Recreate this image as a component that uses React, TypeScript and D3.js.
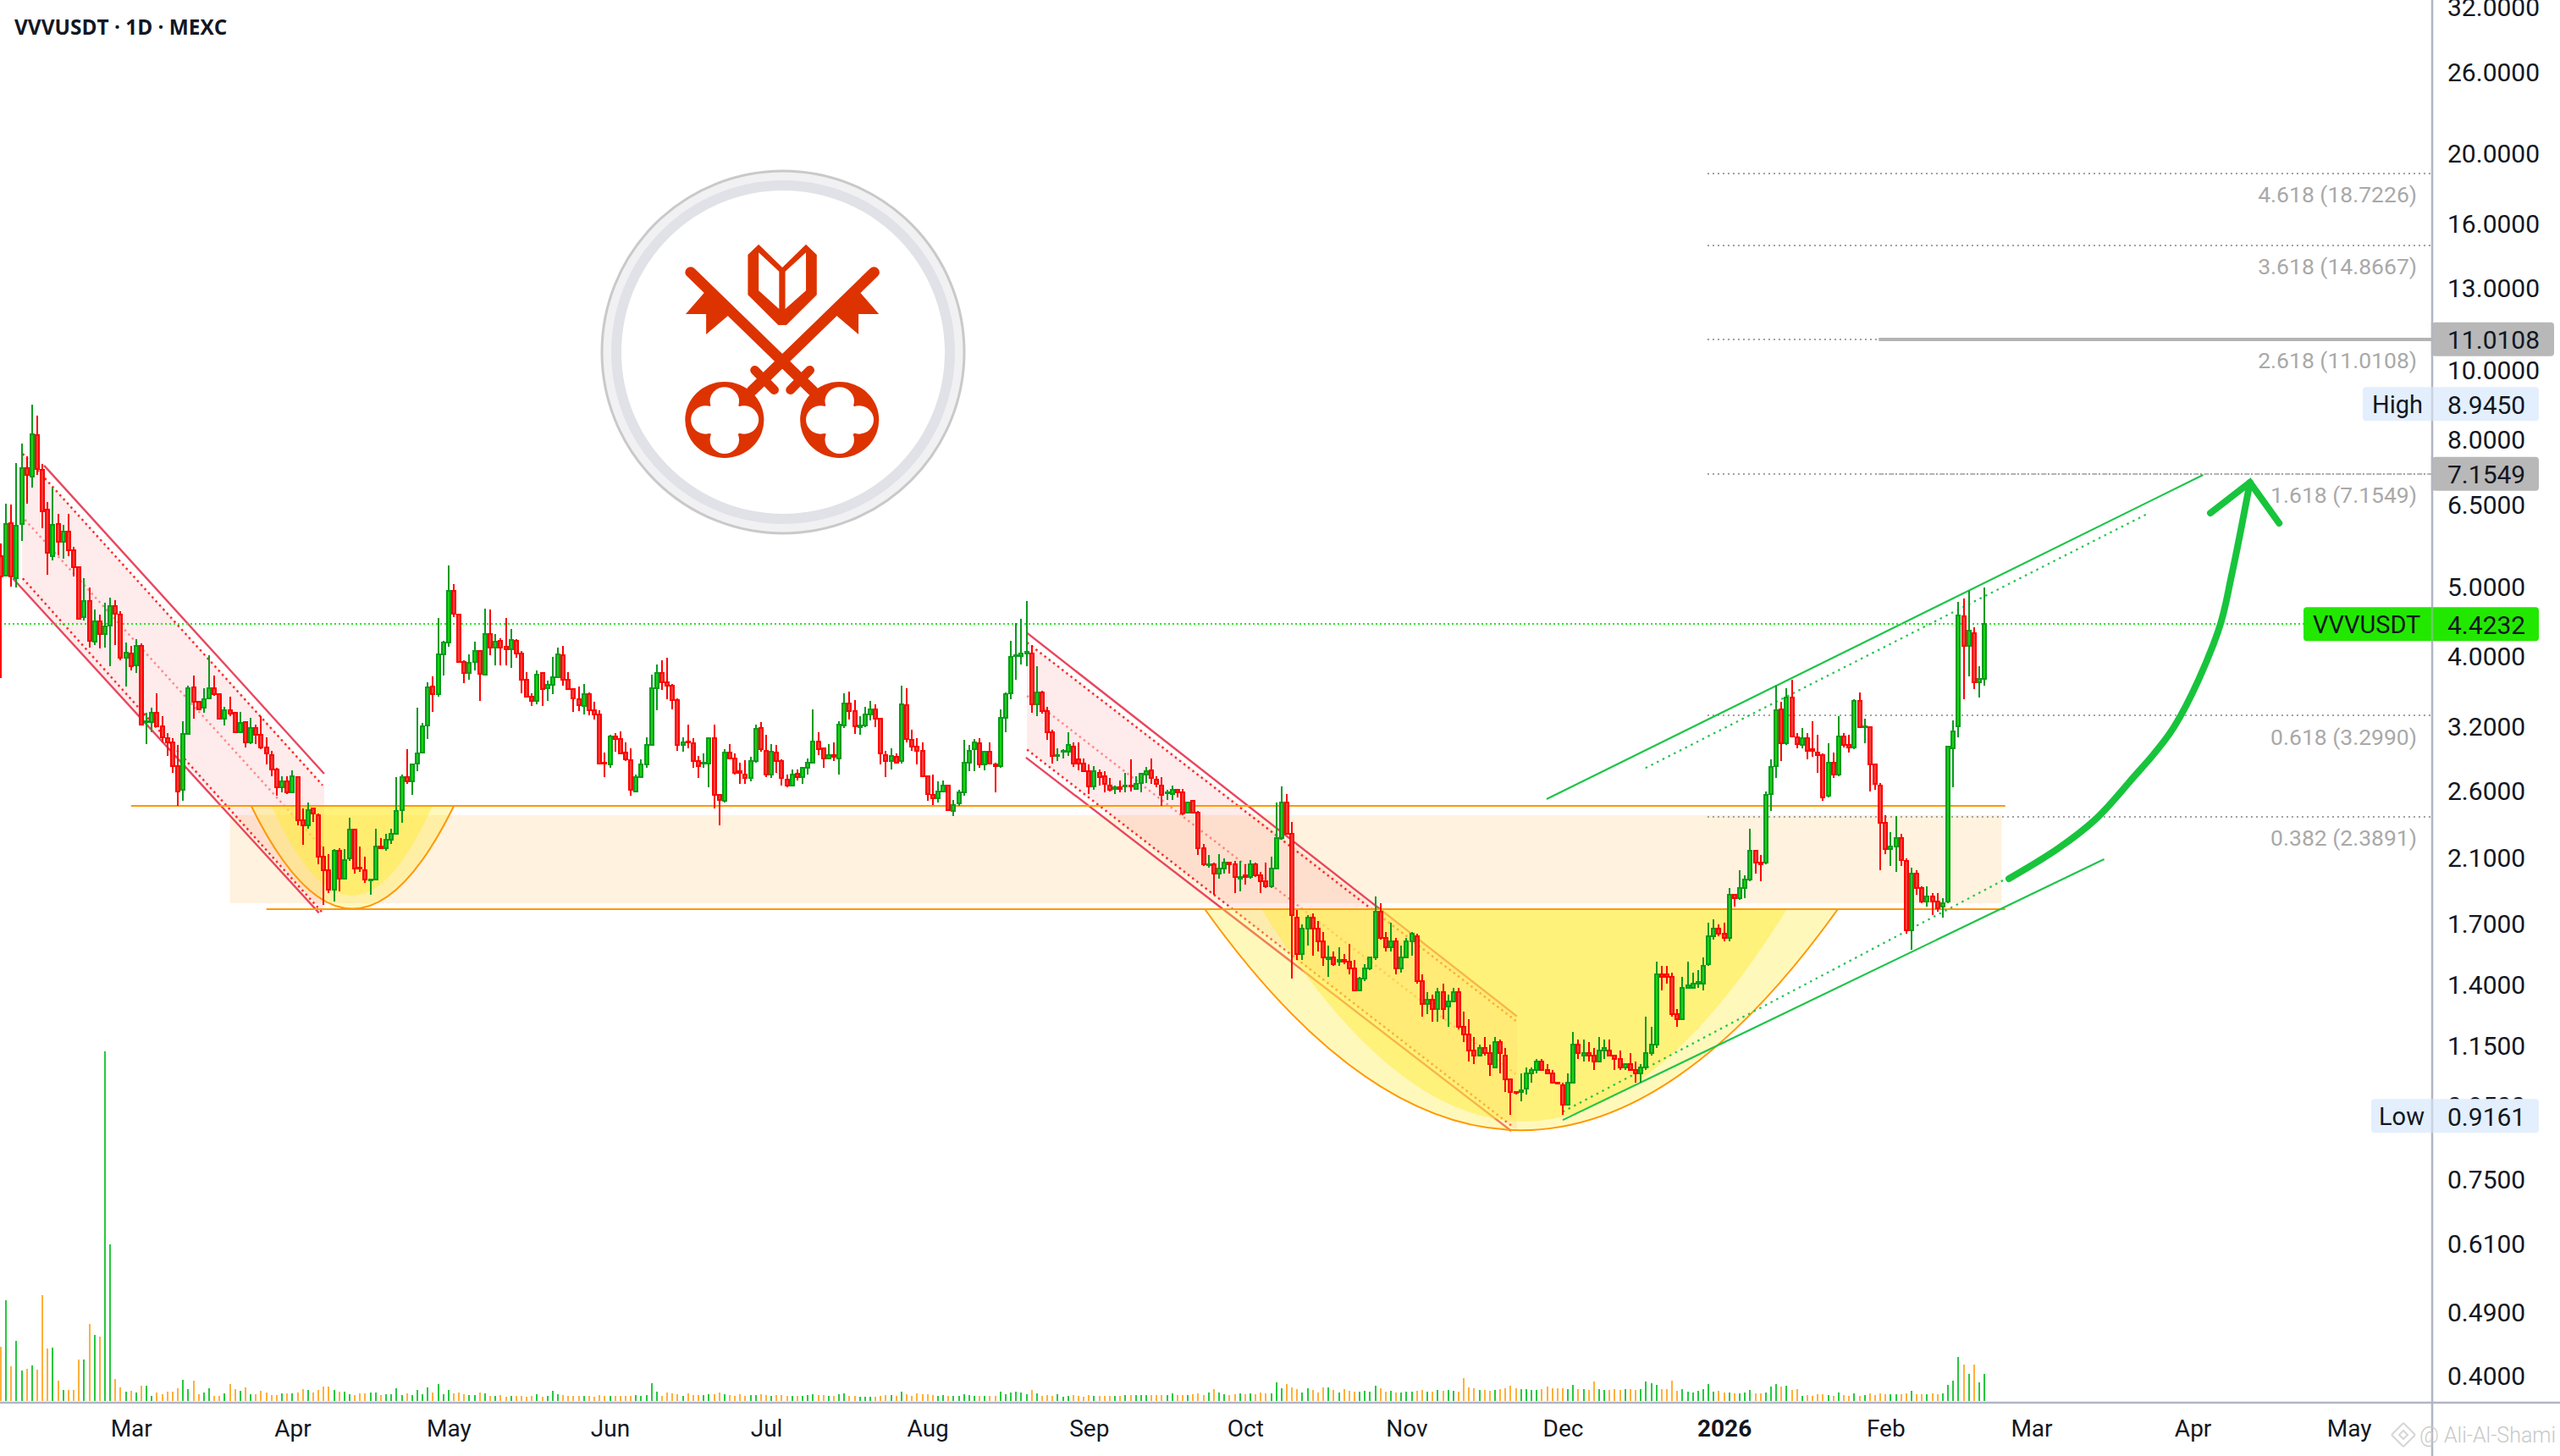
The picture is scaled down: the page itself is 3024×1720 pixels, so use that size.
import { useRef, useEffect } from 'react';
import * as d3 from 'd3';

const width = 3024;
const height = 1720;
const axisX = 2873;
const axisY = 1657;

const firstDay = new Date(Date.UTC(2025, 1, 4));
const lastDay = new Date(Date.UTC(2026, 4, 17));

const priceTicks = [32, 26, 20, 16, 13, 10, 8, 6.5, 5, 4, 3.2, 2.6, 2.1, 1.7, 1.4, 1.15, 0.95, 0.75, 0.61, 0.49, 0.4];

const highs = [
  5.73, 6.51, 6.49, 7.40, 7.88, 7.56, 8.94, 8.61, 7.38, 6.54, 6.84, 6.30, 6.08, 6.30, 5.67, 5.31, 5.13, 4.97, 4.63, 4.56,
  4.73, 4.81, 4.77, 4.61, 4.17, 4.13, 4.21, 4.16, 3.33, 3.38, 3.54, 3.29, 3.12, 3.07, 3.00, 3.24, 3.63, 3.75, 3.45, 3.60,
  4.00, 3.75, 3.53, 3.39, 3.51, 3.34, 3.34, 3.24, 3.28, 3.21, 3.29, 3.08, 2.95, 2.79, 2.72, 2.72, 2.77, 2.71, 2.45, 2.50,
  2.46, 2.41, 2.17, 2.12, 2.15, 2.16, 2.15, 2.38, 2.30, 2.17, 2.10, 1.96, 2.30, 2.23, 2.26, 2.30, 2.71, 2.73, 2.96, 2.83,
  3.38, 3.22, 3.67, 3.74, 4.51, 4.19, 5.33, 5.03, 4.57, 3.94, 4.01, 4.18, 4.04, 4.65, 4.63, 4.28, 4.23, 4.51, 4.35, 4.22,
  4.06, 3.79, 3.54, 3.81, 3.79, 3.69, 3.98, 4.10, 4.12, 3.79, 3.60, 3.62, 3.65, 3.55, 3.45, 3.36, 2.93, 3.10, 3.12, 3.14,
  3.03, 2.97, 2.73, 2.87, 3.08, 3.76, 3.89, 3.94, 3.97, 3.65, 3.49, 3.08, 3.21, 3.07, 2.90, 2.92, 3.07, 3.21, 2.57, 2.96,
  3.01, 2.92, 2.84, 2.86, 2.89, 3.21, 3.23, 3.10, 3.01, 3.00, 2.87, 2.73, 2.78, 2.78, 2.80, 2.88, 3.37, 3.13, 2.98, 3.01,
  3.03, 3.24, 3.54, 3.56, 3.47, 3.29, 3.39, 3.46, 3.42, 3.28, 2.95, 2.97, 2.92, 3.63, 3.60, 3.15, 3.07, 3.03, 2.72, 2.73,
  2.67, 2.68, 2.64, 2.52, 2.60, 3.05, 3.00, 3.06, 3.07, 2.94, 3.03, 2.84, 3.37, 3.55, 4.19, 4.44, 4.50, 4.76, 4.14, 3.86,
  3.57, 3.39, 3.15, 2.97, 2.96, 3.13, 3.03, 3.03, 2.88, 2.82, 2.81, 2.78, 2.76, 2.70, 2.64, 2.68, 2.75, 2.87, 2.72, 2.75,
  2.80, 2.88, 2.72, 2.71, 2.60, 2.64, 2.61, 2.61, 2.50, 2.52, 2.43, 2.19, 2.11, 2.06, 2.12, 2.09, 2.06, 2.07, 2.07, 2.05,
  2.08, 2.06, 2.00, 2.06, 2.10, 2.50, 2.63, 2.57, 2.35, 1.77, 1.69, 1.74, 1.75, 1.71, 1.65, 1.58, 1.55, 1.57, 1.54, 1.59,
  1.51, 1.43, 1.49, 1.52, 1.85, 1.81, 1.65, 1.70, 1.62, 1.58, 1.62, 1.65, 1.64, 1.44, 1.36, 1.35, 1.38, 1.40, 1.35, 1.38,
  1.38, 1.28, 1.25, 1.18, 1.15, 1.18, 1.15, 1.18, 1.17, 1.14, 1.03, 0.99, 1.05, 1.07, 1.07, 1.10, 1.10, 1.08, 1.06, 1.02,
  1.02, 1.05, 1.20, 1.17, 1.17, 1.16, 1.14, 1.18, 1.17, 1.17, 1.11, 1.13, 1.08, 1.12, 1.09, 1.08, 1.26, 1.22, 1.50, 1.48,
  1.48, 1.45, 1.29, 1.43, 1.50, 1.45, 1.46, 1.52, 1.70, 1.72, 1.69, 1.70, 1.90, 1.86, 2.01, 1.98, 2.30, 2.14, 2.11, 2.59,
  2.87, 3.63, 3.45, 3.60, 3.70, 3.12, 3.17, 3.12, 3.24, 3.10, 2.92, 3.02, 2.93, 3.29, 3.12, 3.10, 3.48, 3.55, 3.27, 3.19,
  2.83, 2.66, 2.40, 2.27, 2.39, 2.26, 2.09, 2.03, 2.01, 1.91, 1.91, 1.87, 1.87, 1.84, 2.99, 3.25, 4.75, 4.80, 4.92, 4.38,
  3.87, 4.97,
];

const lows = [
  3.72, 5.15, 4.99, 4.97, 5.77, 6.50, 6.84, 7.13, 6.01, 5.18, 5.42, 5.51, 5.46, 5.49, 5.15, 4.50, 4.48, 4.10, 4.14, 4.09,
  4.10, 3.86, 4.14, 3.94, 3.62, 3.81, 3.78, 3.20, 3.01, 3.13, 3.19, 3.03, 2.90, 2.75, 2.47, 2.51, 3.10, 3.27, 3.37, 3.33,
  3.49, 3.52, 3.27, 3.20, 3.29, 3.13, 3.13, 2.98, 3.01, 3.01, 2.96, 2.82, 2.72, 2.55, 2.58, 2.57, 2.58, 2.32, 2.18, 2.30,
  2.35, 2.05, 1.80, 1.87, 1.82, 1.88, 1.96, 2.07, 1.99, 2.00, 1.93, 1.86, 1.95, 2.16, 2.14, 2.19, 2.26, 2.34, 2.65, 2.56,
  2.76, 2.92, 3.06, 3.34, 3.51, 3.75, 4.11, 4.52, 3.92, 3.66, 3.70, 3.81, 3.46, 3.75, 4.00, 3.88, 3.88, 3.88, 3.84, 3.97,
  3.54, 3.51, 3.40, 3.42, 3.40, 3.46, 3.53, 3.73, 3.63, 3.58, 3.34, 3.35, 3.31, 3.30, 3.26, 2.82, 2.71, 2.79, 2.94, 2.92,
  2.85, 2.55, 2.59, 2.70, 2.79, 3.00, 3.36, 3.58, 3.48, 3.37, 2.95, 2.94, 2.97, 2.79, 2.70, 2.79, 2.62, 2.45, 2.32, 2.50,
  2.87, 2.73, 2.65, 2.65, 2.67, 2.84, 2.94, 2.71, 2.70, 2.75, 2.64, 2.62, 2.63, 2.68, 2.65, 2.73, 2.83, 2.91, 2.79, 2.88,
  2.85, 2.73, 3.17, 3.26, 3.11, 3.10, 3.18, 3.25, 3.18, 2.82, 2.71, 2.78, 2.83, 2.83, 3.03, 2.95, 2.82, 2.71, 2.51, 2.48,
  2.50, 2.58, 2.43, 2.39, 2.47, 2.55, 2.76, 2.76, 2.79, 2.77, 2.82, 2.58, 2.79, 3.13, 3.48, 3.70, 3.89, 3.87, 3.33, 3.29,
  3.32, 3.05, 2.83, 2.85, 2.88, 2.90, 2.80, 2.77, 2.77, 2.57, 2.60, 2.64, 2.58, 2.59, 2.57, 2.58, 2.58, 2.59, 2.60, 2.58,
  2.66, 2.65, 2.62, 2.47, 2.52, 2.52, 2.54, 2.40, 2.41, 2.42, 2.11, 2.04, 2.03, 1.86, 1.96, 1.99, 1.99, 1.87, 1.88, 1.92,
  1.96, 1.97, 1.87, 1.90, 1.90, 2.03, 2.22, 2.26, 1.42, 1.51, 1.51, 1.58, 1.53, 1.55, 1.48, 1.43, 1.48, 1.48, 1.49, 1.44,
  1.37, 1.37, 1.41, 1.46, 1.51, 1.61, 1.55, 1.55, 1.44, 1.45, 1.52, 1.53, 1.40, 1.26, 1.27, 1.24, 1.24, 1.25, 1.22, 1.32,
  1.21, 1.16, 1.09, 1.08, 1.11, 1.11, 1.04, 1.07, 1.05, 0.99, 0.92, 0.98, 0.96, 0.98, 1.02, 1.05, 1.06, 1.05, 1.02, 1.02,
  0.92, 0.95, 1.02, 1.10, 1.09, 1.09, 1.06, 1.09, 1.10, 1.11, 1.06, 1.06, 1.06, 1.06, 1.02, 1.02, 1.06, 1.11, 1.14, 1.37,
  1.40, 1.26, 1.22, 1.25, 1.38, 1.38, 1.38, 1.37, 1.48, 1.61, 1.63, 1.60, 1.60, 1.79, 1.83, 1.84, 1.94, 1.99, 1.94, 2.05,
  2.43, 2.70, 2.85, 3.00, 3.08, 2.97, 2.97, 2.87, 2.89, 2.75, 2.51, 2.54, 2.70, 2.72, 2.98, 2.93, 2.96, 3.17, 3.02, 2.59,
  2.60, 2.01, 2.12, 2.04, 2.00, 2.04, 1.64, 1.56, 1.86, 1.81, 1.79, 1.74, 1.76, 1.73, 1.81, 2.62, 3.08, 3.48, 3.74, 3.59,
  3.50, 3.63,
];

const opens = [
  5.50, 5.17, 6.11, 5.13, 6.09, 7.28, 7.10, 8.11, 7.25, 6.38, 5.50, 6.10, 5.76, 5.94, 5.60, 5.30, 4.52, 4.76, 4.18, 4.46,
  4.29, 4.40, 4.68, 4.56, 3.97, 4.03, 3.88, 4.13, 3.23, 3.23, 3.33, 3.19, 3.07, 3.03, 2.81, 2.60, 3.11, 3.61, 3.45, 3.38,
  3.49, 3.60, 3.53, 3.27, 3.36, 3.33, 3.13, 3.23, 3.03, 3.17, 3.10, 2.98, 2.91, 2.78, 2.62, 2.67, 2.58, 2.71, 2.36, 2.32,
  2.45, 2.40, 2.10, 2.01, 1.89, 2.14, 1.96, 2.09, 2.29, 2.03, 2.01, 1.950, 1.95, 2.17, 2.16, 2.22, 2.26, 2.44, 2.71, 2.67,
  2.83, 2.93, 3.20, 3.62, 3.53, 4.01, 4.17, 4.92, 4.56, 3.92, 3.78, 3.92, 4.06, 3.76, 4.29, 4.10, 4.19, 4.11, 4.08, 4.19,
  4.03, 3.70, 3.51, 3.46, 3.78, 3.60, 3.64, 3.73, 4.00, 3.70, 3.59, 3.48, 3.40, 3.53, 3.36, 3.31, 2.84, 2.82, 3.09, 3.06,
  2.93, 2.86, 2.59, 2.71, 2.82, 3.00, 3.60, 3.78, 3.67, 3.63, 3.47, 3.00, 3.04, 3.02, 2.85, 2.83, 2.83, 3.07, 2.56, 2.51,
  2.93, 2.88, 2.76, 2.73, 2.70, 2.85, 3.17, 2.95, 2.73, 2.93, 2.85, 2.69, 2.64, 2.74, 2.71, 2.79, 2.84, 3.04, 2.97, 2.88,
  2.91, 2.88, 3.20, 3.43, 3.35, 3.18, 3.20, 3.31, 3.37, 3.27, 2.91, 2.85, 2.89, 2.85, 3.41, 3.05, 2.99, 2.95, 2.72, 2.56,
  2.53, 2.59, 2.64, 2.43, 2.49, 2.58, 2.84, 2.96, 3.02, 2.82, 2.94, 2.82, 2.81, 3.28, 3.54, 3.99, 3.99, 4.02, 4.03, 3.42,
  3.55, 3.35, 3.13, 2.90, 2.94, 2.94, 2.99, 2.87, 2.83, 2.76, 2.63, 2.75, 2.72, 2.64, 2.61, 2.62, 2.63, 2.64, 2.61, 2.66,
  2.73, 2.77, 2.69, 2.64, 2.574, 2.57, 2.60, 2.58, 2.42, 2.51, 2.42, 2.16, 2.047, 2.05, 1.99, 2.02, 2.06, 2.05, 1.96, 1.98,
  1.97, 2.05, 1.98, 1.94, 1.91, 2.02, 2.23, 2.50, 2.26, 1.73, 1.54, 1.67, 1.73, 1.67, 1.60, 1.515, 1.52, 1.50, 1.51, 1.50,
  1.47, 1.37, 1.42, 1.47, 1.52, 1.76, 1.62, 1.57, 1.60, 1.47, 1.52, 1.60, 1.63, 1.41, 1.31, 1.33, 1.29, 1.36, 1.30, 1.32,
  1.36, 1.22, 1.19, 1.13, 1.11, 1.14, 1.12, 1.07, 1.16, 1.11, 1.03, 0.99, 0.99, 1.00, 1.05, 1.06, 1.09, 1.06, 1.05, 1.02,
  1.01, 0.95, 1.02, 1.15, 1.11, 1.12, 1.11, 1.09, 1.13, 1.13, 1.11, 1.10, 1.07, 1.08, 1.06, 1.05, 1.07, 1.12, 1.15, 1.44,
  1.44, 1.43, 1.27, 1.25, 1.38, 1.38, 1.40, 1.40, 1.49, 1.63, 1.67, 1.64, 1.62, 1.86, 1.84, 1.90, 1.95, 2.14, 2.06, 2.06,
  2.57, 2.81, 3.37, 3.02, 3.50, 3.08, 3.00, 3.07, 2.96, 2.93, 2.91, 2.55, 2.84, 2.73, 3.09, 3.00, 2.98, 3.46, 3.18, 3.18,
  2.82, 2.64, 2.34, 2.15, 2.17, 2.23, 2.07, 1.66, 1.99, 1.90, 1.82, 1.85, 1.82, 1.79, 1.82, 2.97, 3.19, 4.54, 4.12, 4.30,
  3.67, 3.71,
];

const closes = [
  5.15, 6.10, 5.15, 6.06, 7.28, 7.14, 8.13, 7.27, 6.35, 5.56, 6.07, 5.76, 5.94, 5.60, 5.31, 4.50, 4.76, 4.19, 4.46, 4.29,
  4.39, 4.69, 4.57, 3.97, 4.04, 3.87, 4.13, 3.21, 3.24, 3.33, 3.19, 3.08, 3.03, 2.81, 2.59, 3.11, 3.60, 3.45, 3.37, 3.48,
  3.60, 3.53, 3.27, 3.36, 3.32, 3.13, 3.22, 3.03, 3.17, 3.10, 2.98, 2.92, 2.78, 2.62, 2.67, 2.58, 2.72, 2.36, 2.32, 2.44,
  2.41, 2.10, 2.01, 1.89, 2.14, 1.96, 2.08, 2.29, 2.02, 2.02, 1.95, 1.955, 2.17, 2.16, 2.22, 2.26, 2.43, 2.71, 2.67, 2.82,
  2.92, 3.19, 3.61, 3.53, 4.01, 4.17, 4.92, 4.57, 3.92, 3.78, 3.91, 4.06, 3.77, 4.29, 4.10, 4.18, 4.10, 4.08, 4.20, 4.03,
  3.70, 3.51, 3.46, 3.76, 3.59, 3.64, 3.73, 4.01, 3.70, 3.59, 3.49, 3.41, 3.53, 3.36, 3.31, 2.83, 2.83, 3.09, 3.06, 2.92,
  2.87, 2.60, 2.71, 2.82, 3.00, 3.60, 3.78, 3.67, 3.63, 3.47, 3.00, 3.03, 3.03, 2.85, 2.81, 2.84, 3.07, 2.56, 2.52, 2.93,
  2.88, 2.75, 2.75, 2.70, 2.85, 3.16, 2.96, 2.73, 2.94, 2.85, 2.70, 2.64, 2.73, 2.71, 2.79, 2.84, 3.04, 2.96, 2.88, 2.91,
  2.89, 3.21, 3.43, 3.35, 3.19, 3.20, 3.31, 3.37, 3.27, 2.92, 2.85, 2.90, 2.84, 3.42, 3.06, 2.99, 2.95, 2.72, 2.57, 2.53,
  2.59, 2.64, 2.44, 2.48, 2.58, 2.84, 2.95, 3.03, 2.82, 2.94, 2.83, 2.81, 3.28, 3.53, 3.98, 4.00, 4.03, 4.05, 3.42, 3.55,
  3.35, 3.13, 2.90, 2.91, 2.95, 3.00, 2.83, 2.83, 2.76, 2.63, 2.76, 2.71, 2.65, 2.60, 2.62, 2.61, 2.64, 2.63, 2.65, 2.74,
  2.76, 2.70, 2.65, 2.56, 2.58, 2.60, 2.58, 2.41, 2.50, 2.42, 2.16, 2.05, 2.05, 1.99, 2.02, 2.06, 2.05, 1.97, 1.97, 1.97,
  2.05, 1.98, 1.94, 1.91, 2.02, 2.23, 2.50, 2.26, 1.74, 1.54, 1.67, 1.73, 1.67, 1.60, 1.52, 1.52, 1.49, 1.51, 1.50, 1.47,
  1.37, 1.42, 1.47, 1.52, 1.76, 1.62, 1.57, 1.60, 1.47, 1.52, 1.60, 1.64, 1.41, 1.31, 1.33, 1.29, 1.36, 1.29, 1.32, 1.36,
  1.22, 1.19, 1.13, 1.11, 1.14, 1.12, 1.08, 1.16, 1.12, 1.03, 0.99, 0.985, 0.995, 1.05, 1.06, 1.09, 1.06, 1.05, 1.02, 1.018,
  0.95, 1.02, 1.15, 1.12, 1.12, 1.11, 1.09, 1.13, 1.14, 1.11, 1.10, 1.07, 1.08, 1.06, 1.05, 1.07, 1.12, 1.15, 1.44, 1.43,
  1.43, 1.27, 1.25, 1.38, 1.39, 1.40, 1.405, 1.48, 1.63, 1.67, 1.64, 1.62, 1.86, 1.84, 1.90, 1.95, 2.14, 2.06, 2.05, 2.56,
  2.80, 3.36, 3.02, 3.50, 3.09, 3.01, 3.07, 2.95, 2.95, 2.91, 2.54, 2.84, 2.73, 3.09, 3.00, 2.98, 3.46, 3.18, 3.19, 2.82,
  2.65, 2.34, 2.15, 2.17, 2.23, 2.08, 1.66, 1.99, 1.90, 1.82, 1.85, 1.82, 1.78, 1.81, 2.99, 3.14, 4.55, 4.12, 4.33, 3.67,
  3.71, 4.4232,
];

const volumes = [
  64, 119, 41, 71, 36, 38, 42, 37, 125, 62, 63, 24, 13, 13, 13, 49, 49, 91, 78, 76,
  413, 185, 26, 16, 11, 12, 10, 18, 18, 6, 10, 8, 11, 11, 15, 25, 14, 24, 8, 10,
  15, 6, 6, 9, 20, 14, 12, 16, 8, 8, 12, 10, 7, 7, 9, 9, 9, 10, 14, 13,
  10, 13, 17, 17, 13, 11, 11, 8, 7, 9, 9, 10, 10, 7, 8, 8, 15, 7, 9, 7,
  13, 8, 16, 10, 20, 8, 13, 9, 10, 8, 7, 7, 10, 9, 6, 6, 7, 5, 6, 6,
  6, 5, 6, 8, 5, 6, 12, 8, 7, 6, 6, 6, 6, 6, 5, 7, 6, 6, 6, 6,
  6, 6, 7, 6, 7, 21, 11, 6, 10, 9, 8, 6, 9, 7, 7, 7, 8, 8, 10, 8,
  7, 6, 8, 6, 7, 7, 8, 7, 6, 7, 7, 6, 6, 6, 6, 7, 8, 7, 7, 6,
  6, 8, 9, 6, 6, 5, 5, 5, 5, 6, 7, 7, 6, 11, 8, 6, 9, 8, 8, 7,
  6, 7, 6, 6, 6, 8, 7, 6, 6, 6, 6, 6, 11, 8, 10, 11, 10, 8, 13, 9,
  6, 7, 6, 8, 5, 6, 7, 6, 5, 7, 6, 6, 6, 6, 6, 6, 7, 7, 7, 7,
  7, 7, 7, 7, 7, 9, 7, 7, 7, 8, 9, 7, 10, 14, 10, 8, 7, 8, 9, 8,
  9, 8, 10, 9, 9, 22, 15, 20, 16, 14, 10, 15, 13, 10, 16, 16, 13, 10, 14, 12,
  11, 11, 12, 11, 18, 15, 11, 12, 10, 10, 11, 11, 12, 13, 11, 11, 13, 12, 13, 12,
  11, 27, 16, 15, 13, 13, 12, 13, 14, 15, 18, 15, 14, 14, 13, 13, 14, 17, 15, 15,
  15, 14, 19, 14, 14, 13, 23, 14, 13, 13, 14, 13, 14, 14, 13, 14, 23, 21, 19, 14,
  14, 24, 12, 14, 11, 10, 12, 14, 20, 11, 12, 10, 10, 9, 9, 10, 13, 9, 9, 10,
  17, 20, 17, 18, 13, 14, 6, 7, 6, 8, 8, 7, 6, 10, 7, 6, 9, 6, 7, 9,
  7, 9, 8, 8, 8, 8, 9, 12, 8, 8, 8, 9, 8, 9, 19, 24, 52, 43, 32, 43,
  22, 32,
];

const fibRatios = ['4.618', '3.618', '2.618', '1.618', '0.618', '0.382'];
const fibPrices = [18.7226, 14.8667, 11.0108, 7.1549, 3.299, 2.3891];

const lastPrice = 4.4232;
const periodHigh = 8.945;
const periodLow = 0.9161;

// horizontal zones, [from bar, to bar]
const zoneTop = 2.47;
const zoneBottom = 1.778;
const zoneTopBars = [25, 385];
const zoneBottomBars = [51, 385];
const bandPrices = [2.4, 1.81];
const bandBars = [44, 384.3];

// cups, [left bar, right bar, rim price, bottom price]
const cups = [
  [48.1, 87, 2.47, 1.778],
  [231.2, 352.9, 1.778, 0.875],
];
const cupCores = [
  [52, 82.9, 2.47, 1.855],
  [242.1, 343.1, 1.778, 0.9],
];

// falling channels, each line is [bar, price] -> [bar, price]
const fallingOuter = [
  [[[8.3, 7.35], [62.1, 2.74]], [[2.3, 5.12], [61.1, 1.755]]],
  [[[197.1, 4.3], [291.2, 1.26]], [[196.9, 2.885], [290.1, 0.873]]],
];
const fallingInner = [
  [[[4.2, 7.63], [61.8, 2.64]], [[4.6, 6.18], [61.8, 2.16]], [[4.2, 5.12], [61.8, 1.755]]],
  [[[197.1, 4.17], [291, 1.242]], [[197.1, 3.515], [291, 1.047]], [[197.1, 2.96], [290.4, 0.885]]],
];
const fallingFill = [
  [[4.1, 7.63], [62.1, 2.64], [62.1, 1.755], [4.1, 4.95]],
  [[197.1, 4.17], [291.2, 1.26], [291.2, 0.873], [197.1, 2.96]],
];

// rising channel
const risingSolid = [
  [[296.9, 2.525], [423, 7.13]],
  [[300, 0.904], [404, 2.084]],
];
const risingDotted = [
  [[315.9, 2.79], [412, 6.28]],
  [[300, 0.928], [385.2, 1.958]],
];

// forecast arrow
const arrowPath = [
  [385.7, 1.958], [395.1, 2.155], [402.4, 2.37], [408.8, 2.666], [417.4, 3.18], [425.9, 4.325], [428.5, 5.18], [432, 6.96],
];
const arrowHead = [[424.4, 6.31], [432, 6.96], [437.6, 6.11]];

const RED = '#ff0000';
const RED_FILL = '#f5403c';
const GREEN = '#0a9a1e';
const GREEN_FILL = '#14d414';
const TEXT = '#131722';
const AXIS = '#b2b5c3';
const FONT = 'Roboto, sans-serif';

function App() {
  const svgRef = useRef<SVGSVGElement | null>(null);

  useEffect(() => {
    const svg = d3.select(svgRef.current).attr('viewBox', [0, 0, width, height].join(' '));
    svg.selectAll('*').remove();
    svg.append('rect').attr('width', width).attr('height', height).attr('fill', '#fff');

    const xTime = d3.scaleUtc().domain([firstDay, lastDay]).range([1, axisX]);
    const x = (bar: number) => xTime(new Date(firstDay.getTime() + bar * 864e5));
    const y = d3.scaleLog().domain([0.4, 32]).range([1624, 7]);
    const vol = d3.scaleLinear().domain([0, 413]).range([1655, 1242]);

    const line = d3
      .line<number[]>()
      .x((d) => x(d[0]))
      .y((d) => y(d[1]));

    const chart = svg.append('g');

    // Supply / demand band
    chart
      .append('rect')
      .attr('x', x(bandBars[0]))
      .attr('y', y(bandPrices[0]))
      .attr('width', x(bandBars[1]) - x(bandBars[0]))
      .attr('height', y(bandPrices[1]) - y(bandPrices[0]))
      .attr('fill', 'rgba(255,152,0,0.13)');

    // Falling channels
    fallingFill.forEach((poly) => {
      chart
        .append('path')
        .attr('d', line(poly) + 'Z')
        .attr('fill', 'rgba(242,54,69,0.1)');
    });
    fallingOuter.flat().forEach((seg) => {
      chart.append('path').attr('d', line(seg)).attr('fill', 'none').attr('stroke', '#e8475f').attr('stroke-width', 2.4);
    });
    fallingInner.forEach((group) => {
      group.forEach((seg, i) => {
        chart
          .append('path')
          .attr('d', line(seg))
          .attr('fill', 'none')
          .attr('stroke', i === 1 ? 'rgba(255,60,60,0.55)' : '#ff2a2a')
          .attr('stroke-width', 2.5)
          .attr('stroke-dasharray', '2.5 4');
      });
    });

    // Cups
    const cupPath = (c: number[]) => {
      const p = d3.path();
      const top = y(c[2]);
      p.moveTo(x(c[0]), top);
      p.quadraticCurveTo((x(c[0]) + x(c[1])) / 2, top + 2 * (y(c[3]) - top), x(c[1]), top);
      return p.toString();
    };
    cups.forEach((c) => {
      chart.append('path').attr('d', cupPath(c) + 'Z').attr('fill', 'rgba(255,235,59,0.35)');
    });
    cupCores.forEach((c) => {
      chart.append('path').attr('d', cupPath(c) + 'Z').attr('fill', 'rgba(255,235,59,0.5)');
    });
    cups.forEach((c) => {
      chart.append('path').attr('d', cupPath(c)).attr('fill', 'none').attr('stroke', '#ff9800').attr('stroke-width', 2);
    });

    // Horizontal zone lines
    [
      [zoneTopBars, zoneTop],
      [zoneBottomBars, zoneBottom],
    ].forEach(([bars, price]: any) => {
      chart
        .append('line')
        .attr('x1', x(bars[0]))
        .attr('x2', x(bars[1]))
        .attr('y1', Math.round(y(price)))
        .attr('y2', Math.round(y(price)))
        .attr('stroke', '#ff9800')
        .attr('stroke-width', 2);
    });

    // Fibonacci levels
    fibPrices.forEach((price, i) => {
      chart
        .append('line')
        .attr('x1', x(327.8))
        .attr('x2', axisX)
        .attr('y1', Math.round(y(price)))
        .attr('y2', Math.round(y(price)))
        .attr('stroke', '#a0a0a0')
        .attr('stroke-width', 2)
        .attr('stroke-dasharray', '2 4');
      chart
        .append('text')
        .attr('x', 2855)
        .attr('y', y(price) + 25)
        .attr('dy', '0.35em')
        .attr('text-anchor', 'end')
        .attr('fill', '#a9a9a9')
        .style('font', `26.5px ${FONT}`)
        .text(`${fibRatios[i]} (${price.toFixed(4)})`);
    });
    chart
      .append('line')
      .attr('x1', x(360.7))
      .attr('x2', axisX)
      .attr('y1', Math.round(y(fibPrices[2])))
      .attr('y2', Math.round(y(fibPrices[2])))
      .attr('stroke', '#b4b4b4')
      .attr('stroke-width', 4);
    chart
      .append('line')
      .attr('x1', x(360.7))
      .attr('x2', axisX)
      .attr('y1', Math.round(y(fibPrices[3])))
      .attr('y2', Math.round(y(fibPrices[3])))
      .attr('stroke', '#b4b4b4')
      .attr('stroke-width', 2)
      .attr('stroke-dasharray', '6 6');

    // Rising channel
    risingSolid.forEach((seg) => {
      chart.append('path').attr('d', line(seg)).attr('fill', 'none').attr('stroke', '#1fc44a').attr('stroke-width', 2.2);
    });
    risingDotted.forEach((seg) => {
      chart
        .append('path')
        .attr('d', line(seg))
        .attr('fill', 'none')
        .attr('stroke', '#1fc44a')
        .attr('stroke-width', 2.2)
        .attr('stroke-dasharray', '2.5 5');
    });

    // Last price line
    chart
      .append('line')
      .attr('x1', 0)
      .attr('x2', 2721)
      .attr('y1', Math.round(y(lastPrice)))
      .attr('y2', Math.round(y(lastPrice)))
      .attr('stroke', '#22e81a')
      .attr('stroke-width', 2)
      .attr('stroke-dasharray', '2 3');

    // Volume
    chart
      .selectAll('.vol')
      .data(volumes)
      .join('rect')
      .attr('class', 'vol')
      .attr('x', (_, i) => Math.round(x(i)) - 1)
      .attr('y', (d) => vol(d))
      .attr('width', 2)
      .attr('height', (d) => vol(0) - vol(d))
      .attr('shape-rendering', 'crispEdges')
      .attr('fill', (_, i) => (closes[i] >= opens[i] ? '#27c83f' : '#ffb03b'));

    // Candles
    const candles = chart
      .selectAll('.candle')
      .data(highs)
      .join('g')
      .attr('class', 'candle')
      .attr('shape-rendering', 'crispEdges');
    candles
      .append('rect')
      .attr('x', (_, i) => Math.round(x(i)) - 1)
      .attr('y', (d) => y(d))
      .attr('width', 2)
      .attr('height', (d, i) => y(lows[i]) - y(d))
      .attr('fill', (_, i) => (closes[i] >= opens[i] ? GREEN : RED));
    candles
      .append('rect')
      .attr('x', (_, i) => Math.round(x(i)) - 3)
      .attr('y', (_, i) => y(Math.max(opens[i], closes[i])) - 1)
      .attr('width', 6)
      .attr('height', (_, i) => Math.max(3, y(Math.min(opens[i], closes[i])) - y(Math.max(opens[i], closes[i])) + 2))
      .attr('fill', (_, i) => (closes[i] >= opens[i] ? GREEN : RED));
    candles
      .append('rect')
      .attr('x', (_, i) => Math.round(x(i)) - 1)
      .attr('y', (_, i) => y(Math.max(opens[i], closes[i])) + 1)
      .attr('width', 2)
      .attr('height', (_, i) => Math.max(0, y(Math.min(opens[i], closes[i])) - y(Math.max(opens[i], closes[i])) - 2))
      .attr('fill', (_, i) => (closes[i] >= opens[i] ? GREEN_FILL : RED_FILL));

    // Forecast arrow
    const curve = d3
      .line<number[]>()
      .x((d) => x(d[0]))
      .y((d) => y(d[1]))
      .curve(d3.curveCatmullRom);
    chart
      .append('path')
      .attr('d', curve(arrowPath))
      .attr('fill', 'none')
      .attr('stroke', '#18c43c')
      .attr('stroke-width', 8)
      .attr('stroke-linecap', 'round');
    chart
      .append('path')
      .attr('d', line(arrowHead))
      .attr('fill', 'none')
      .attr('stroke', '#18c43c')
      .attr('stroke-width', 8)
      .attr('stroke-linecap', 'round')
      .attr('stroke-linejoin', 'miter');

    // Axes
    const yAxis = svg
      .append('g')
      .attr('transform', `translate(${axisX},0)`)
      .call(
        d3
          .axisRight(y)
          .tickValues(priceTicks)
          .tickFormat((d) => d3.format('.4f')(d as number))
          .tickSize(0)
          .tickPadding(18)
      );
    yAxis.select('.domain').remove();
    yAxis.selectAll('text').attr('fill', TEXT).attr('dy', '0.38em').style('font', `30px ${FONT}`);

    const months = d3.utcMonth.range(new Date(Date.UTC(2025, 2, 1)), new Date(Date.UTC(2026, 4, 2)));
    const xAxis = svg
      .append('g')
      .attr('transform', `translate(0,${axisY})`)
      .call(
        d3
          .axisBottom(xTime)
          .tickValues(months)
          .tickFormat((d) => (d as Date).getUTCMonth() === 0 ? String((d as Date).getUTCFullYear()) : d3.utcFormat('%b')(d as Date))
          .tickSize(0)
          .tickPadding(20)
      );
    xAxis.select('.domain').remove();
    xAxis
      .selectAll('text')
      .attr('fill', TEXT)
      .style('font', (d) => `${(d as Date).getUTCMonth() === 0 ? 'bold ' : ''}28px ${FONT}`);

    svg.append('line').attr('x1', axisX).attr('x2', axisX).attr('y1', 0).attr('y2', height).attr('stroke', AXIS).attr('stroke-width', 2.5);
    svg.append('line').attr('x1', 0).attr('x2', width).attr('y1', axisY).attr('y2', axisY).attr('stroke', AXIS).attr('stroke-width', 2.5);

    // Price tags
    const tag = (left: number, right: number, price: number, fill: string, value: string, name?: string, nameX?: number) => {
      const cy = y(price);
      svg.append('rect').attr('x', left).attr('y', cy - 20).attr('width', right - left).attr('height', 40).attr('rx', 4).attr('fill', fill);
      svg.append('line').attr('x1', axisX).attr('x2', axisX).attr('y1', cy - 20).attr('y2', cy + 20).attr('stroke', AXIS).attr('stroke-width', 2.5).attr('opacity', 0.5);
      svg.append('text').attr('x', 2891).attr('y', cy).attr('dy', '0.38em').attr('fill', TEXT).style('font', `30px ${FONT}`).text(value);
      if (name) {
        svg.append('text').attr('x', nameX!).attr('y', cy).attr('dy', '0.36em').attr('fill', TEXT).style('font', `29px ${FONT}`).text(name);
      }
    };
    tag(axisX, 3017, fibPrices[2], '#b8b8b8', '11.0108');
    tag(axisX, 2999, fibPrices[3], '#b8b8b8', '7.1549');
    tag(2791, 2999, periodHigh, '#e3effd', '8.9450', 'High', 2802);
    tag(2801, 2999, periodLow, '#e3effd', '0.9161', 'Low', 2810);
    tag(2721, 2999, lastPrice, '#22e800', '4.4232', 'VVVUSDT', 2732);

    // Title
    svg
      .append('text')
      .attr('x', 17)
      .attr('y', 32)
      .attr('dy', '0.35em')
      .attr('fill', TEXT)
      .style('font', 'bold 24.4px "Open Sans", sans-serif')
      .text('VVVUSDT · 1D · MEXC');

    // Watermark
    const mark = svg.append('g').attr('transform', 'translate(2839,1695)').attr('fill', 'none').attr('stroke', '#d6d6d6').attr('stroke-width', 2);
    mark.append('path').attr('d', 'M0,-14 L8,-6 M0,-14 L-8,-6 M-14,0 L-8,-6 M14,0 L8,-6 M-14,0 L-8,6 M14,0 L8,6 M0,14 L8,6 M0,14 L-8,6');
    mark.append('path').attr('d', 'M0,-5 L5,0 L0,5 L-5,0 Z');
    svg
      .append('text')
      .attr('x', 2858)
      .attr('y', 1695)
      .attr('dy', '0.35em')
      .attr('fill', '#c8c8c8')
      .style('font', `300 25px ${FONT}`)
      .text('@ Ali-Al-Shami');

    // Logo badge
    const cx = 925;
    const cy = 416;
    svg.append('circle').attr('cx', cx).attr('cy', cy).attr('r', 214).attr('fill', '#f1f1f3').attr('stroke', '#c9c9c9').attr('stroke-width', 3);
    svg.append('circle').attr('cx', cx).attr('cy', cy).attr('r', 203).attr('fill', '#e0e2e7');
    svg.append('circle').attr('cx', cx).attr('cy', cy).attr('r', 191).attr('fill', '#fff');
    const logo = svg.append('g').attr('transform', 'translate(660,180) scale(0.3448,0.3333)');
    const keyRed = '#dd3300';
    const stroke = (d: string, w: number) =>
      logo.append('path').attr('d', d).attr('fill', 'none').attr('stroke', keyRed).attr('stroke-width', w).attr('stroke-linecap', 'round');
    logo.append('path').attr('fill', keyRed).attr('d', 'M685,326 L766,408 L847,326 L884,363 L884,505 L780,612 L752,612 L648,505 L648,363 Z');
    logo.append('path').attr('fill', '#fff').attr('d', 'M685,355 L755,422 L755,555 L685,490 Z M847,355 L776,422 L776,555 L847,490 Z');
    stroke('M452,425 L870,845', 38);
    stroke('M1080,425 L662,845', 38);
    logo.append('path').attr('fill', keyRed).attr('d', 'M515,478 L435,573 L505,573 L505,645 L590,570 Z');
    logo.append('path').attr('fill', keyRed).attr('d', 'M1017,478 L1097,573 L1027,573 L1027,645 L942,570 Z');
    stroke('M672,772 L738,842', 32);
    stroke('M860,772 L794,842', 32);
    [568, 962].forEach((c) => {
      logo.append('circle').attr('cx', c).attr('cy', 948).attr('r', 135).attr('fill', keyRed);
      [[-65, 0], [67, 0], [0, -66], [0, 70]].forEach(([dx, dy]) => {
        logo.append('circle').attr('cx', c + dx).attr('cy', 948 + dy).attr('r', 50).attr('fill', '#fff');
      });
      logo.append('rect').attr('x', c - 50).attr('y', 898).attr('width', 100).attr('height', 100).attr('fill', '#fff');
    });
  }, []);

  return <svg ref={svgRef} width={width} height={height} style={{ position: 'absolute', left: 0, top: 0, display: 'block' }} />;
}

export default App;
